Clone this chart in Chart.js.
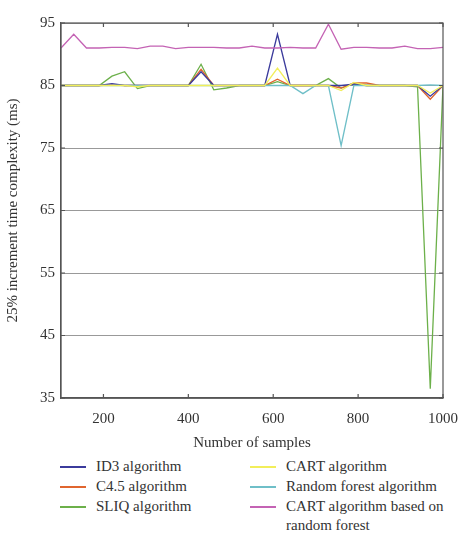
<!DOCTYPE html>
<html><head><meta charset="utf-8">
<script src="https://cdn.jsdelivr.net/npm/chart.js@4"></script>
<style>
body{margin:0;background:#fff;font-family:"Liberation Serif","Times New Roman","DejaVu Serif",serif;}
#wrap{position:relative;width:474px;height:456px;}
#legend{position:absolute;top:457px;left:60px;width:414px;font-size:15px;color:#333;display:grid;grid-template-columns:190px 220px;row-gap:1px;}
.it{display:flex;align-items:flex-start;line-height:19px;}
.sw{width:26px;height:2px;margin:9px 10px 0 0;flex:none;}
</style></head><body>
<div id="wrap"><canvas id="c" width="474" height="456"></canvas></div>
<div id="legend"></div>
<script>
const samples=[100,130,160,190,220,250,280,310,340,370,400,430,460,490,520,550,580,610,640,670,700,730,760,790,820,850,880,910,940,970,1000];
const id3 =[85,85,85,85,85.3,85,85,85,85,85,85,87.2,85,85,85,85,85,93.2,85,85,85,85,85,85.2,85,85,85,85,85,83.3,85];
const c45 =[85,85,85,85,85.1,85,85,85,85,85,85,87.6,85,85,85,85,85,86,85,85,85,85,84.6,85.4,85.4,85,85,85,85,82.8,85];
const sliq=[85,85,85,85,86.5,87.2,84.5,85,85,85,85,88.4,84.3,84.6,85,85,85,85.6,85,85,85,86.1,84.6,85.3,85,85,85,85,84.8,36.5,85];
const cart=[85,85,85,85,85,85,84.8,85,85,85,85,85,85,85,85,85,85,87.8,85,85,85,85,84.2,85.5,85,85,85,85,85,83.8,85];
const rf  =[85,85,85,85,85,85,85,85,85,85,85,85,85,85,85,85,85,85,85,83.7,85,85,75.4,85,85,85,85,85,85,85.1,85];
const crf =[91,93.2,91,91,91.1,91.1,90.9,91.3,91.3,90.9,91.1,91.1,91.1,91,91,91.3,91,91,91.1,91,91,94.8,90.8,91.1,91.1,91,91,91.3,90.9,90.9,91.1];
const xTicks=[200,400,600,800,1000];
const yTicks=[35,45,55,65,75,85,95];
const series=[["ID3 algorithm",id3,"#3b3b9c"],["CART algorithm",cart,"#f2ee5a"],["C4.5 algorithm",c45,"#e0652f"],["Random forest algorithm",rf,"#6fbfc8"],["SLIQ algorithm",sliq,"#6cb04a"],["CART algorithm based on random forest",crf,"#c463b4"]];
const order=[1,3,5,0,2,4];
const FF='"Liberation Serif","Times New Roman","DejaVu Serif",serif';
const lg=document.getElementById('legend');
series.forEach(s=>{lg.innerHTML+=`<div class="it"><div class="sw" style="background:${s[2]}"></div><div>${s[0].replace(' based on',' based on<br>')}</div></div>`;});
new Chart(document.getElementById('c'),{type:'line',
data:{datasets:order.map(i=>({label:series[i][0],data:samples.map((x,k)=>({x,y:series[i][1][k]})),borderColor:series[i][2],borderWidth:1.3,pointRadius:0,tension:0}))},
options:{responsive:false,animation:false,layout:{padding:{top:23,right:31,left:0,bottom:0}},
plugins:{legend:{display:false},tooltip:{enabled:false}},
scales:{
x:{type:'linear',min:100,max:1000,afterBuildTicks:a=>{a.ticks=xTicks.map(v=>({value:v}));},
 grid:{display:false},border:{color:'#555',width:1.2},
 ticks:{color:'#333',font:{family:FF,size:15},padding:4,callback:v=>String(v)},
 title:{display:true,text:'Number of samples',color:'#333',font:{family:FF,size:15},padding:{top:2,bottom:4}}},
y:{min:35,max:95,afterBuildTicks:a=>{a.ticks=yTicks.map(v=>({value:v}));},afterFit:a=>{a.width=61;},
 grid:{color:'#999',lineWidth:1,drawTicks:false,borderDash:[1,5]},border:{color:'#555',width:1.2},
 ticks:{color:'#333',font:{family:FF,size:15},padding:6},
 title:{display:true,text:'25% increment time complexity (ms)',color:'#333',font:{family:FF,size:15},padding:{bottom:2}}}}},
plugins:[{id:'frame',afterDraw(ch){const a=ch.chartArea,c=ch.ctx;c.save();c.strokeStyle='#555';c.lineWidth=1.2;c.setLineDash([]);c.strokeRect(a.left,a.top,a.right-a.left,a.bottom-a.top);
 const xs=ch.scales.x;xTicks.forEach(v=>{const p=xs.getPixelForValue(v);c.beginPath();c.moveTo(p,a.top);c.lineTo(p,a.top+4);c.moveTo(p,a.bottom);c.lineTo(p,a.bottom-4);c.stroke();});
 const ys=ch.scales.y;yTicks.forEach(v=>{const p=ys.getPixelForValue(v);c.beginPath();c.moveTo(a.left,p);c.lineTo(a.left+4,p);c.moveTo(a.right,p);c.lineTo(a.right-4,p);c.stroke();});c.restore();}}]
});
</script></body></html>
